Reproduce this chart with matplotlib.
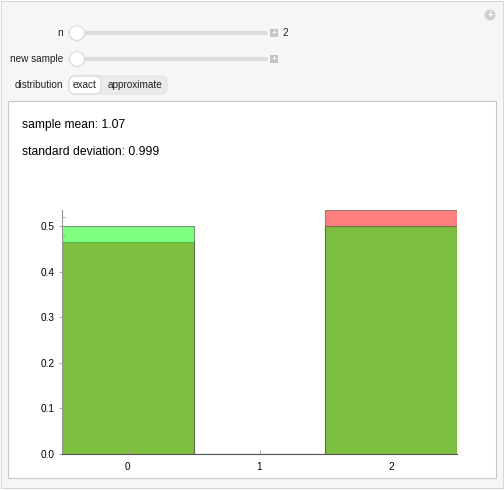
import numpy as np
from matplotlib import pyplot as plt
from matplotlib.patches import Rectangle, FancyBboxPatch, Circle
from matplotlib.ticker import MultipleLocator

plt.rcParams['font.family'] = ['Liberation Sans', 'DejaVu Sans']

# values
outcomes = [0, 1, 2]
exact_prob = [0.5, 0.0, 0.5]
sample_freq = [0.465, 0.0, 0.535]
tick_labels = ['0', '1', '2']
mean_text = 'sample mean: 1.07'
std_text = 'standard deviation: 0.999'
n_value = '2'

W, H = 504, 490
fig = plt.figure(figsize=(W / 100, H / 100), dpi=100)
fig.patch.set_facecolor('white')

def px(x, y):
    # pixel coords (top-left origin) -> figure fraction
    return x / W, 1 - y / H

# outer panel
fig.patches.append(Rectangle((1 / W, 1 - 488 / H), 502 / W, 487 / H, transform=fig.transFigure,
                             facecolor='#f6f6f6', edgecolor='#d8d8d8', lw=0.8, zorder=-3))
# inner white pane
fig.patches.append(Rectangle((8 / W, 1 - 478 / H), 488 / W, 377 / H, transform=fig.transFigure,
                             facecolor='white', edgecolor='#c8c8c8', lw=0.8, zorder=-2))

# controls
lab_fs = 7.2
for label, yy in [('n', 33), ('new sample', 59)]:
    fig.text(*px(63, yy), label, ha='right', va='center', fontsize=lab_fs, color='#222222')
    fig.add_artist(plt.Line2D([70 / W, 266 / W], [1 - yy / H] * 2, color='#dcdcdc', lw=3,
                              solid_capstyle='round', transform=fig.transFigure, zorder=1))
    fig.patches.append(Circle(px(77, yy + 0.5), 8 / W, transform=fig.transFigure,
                              facecolor='#e2e2e2', edgecolor='none', zorder=2))
    fig.patches.append(Circle(px(77, yy), 7.5 / W, transform=fig.transFigure,
                              facecolor='white', edgecolor='#d0d0d0', lw=0.5, zorder=3))
    fig.patches.append(Rectangle((270 / W, 1 - (yy + 4) / H), 8 / W, 8 / H, transform=fig.transFigure,
                                 facecolor='#c4c4c4', edgecolor='none', zorder=2))
    fig.text(*px(274, yy), '+', ha='center', va='center', fontsize=6, color='white', weight='bold',
             zorder=4)
fig.text(*px(282, 33), n_value, ha='left', va='center', fontsize=lab_fs, color='#222222')

fig.text(*px(63, 85), 'distribution', ha='right', va='center', fontsize=lab_fs, color='#222222')
fig.patches.append(FancyBboxPatch((69 / W, 1 - 94 / H), 98 / W, 18 / H, transform=fig.transFigure,
                                  boxstyle='round,pad=0,rounding_size=0.012',
                                  facecolor='#ebebeb', edgecolor='#dddddd', lw=0.6, zorder=1))
fig.patches.append(FancyBboxPatch((69 / W, 1 - 94 / H), 32 / W, 18 / H, transform=fig.transFigure,
                                  boxstyle='round,pad=0,rounding_size=0.012',
                                  facecolor='white', edgecolor='#cccccc', lw=0.6, zorder=2))
fig.text(*px(85, 85), 'exact', ha='center', va='center', fontsize=lab_fs, color='#222222')
fig.text(*px(135, 85), 'approximate', ha='center', va='center', fontsize=lab_fs, color='#222222')

fig.patches.append(Circle(px(490, 15), 5.5 / W, transform=fig.transFigure,
                          facecolor='#cfcfcf', edgecolor='none', zorder=1))
fig.text(*px(490, 15), '+', ha='center', va='center', fontsize=7, color='white', weight='bold')

# text lines
fig.text(*px(22, 125), mean_text, ha='left', va='center', fontsize=8.7, color='black')
fig.text(*px(22, 152), std_text, ha='left', va='center', fontsize=8.7, color='black')

# histogram axes
ax = fig.add_axes([62 / W, 36 / H, (457 - 62) / W, (454 - 210) / H], zorder=5)
ax.bar(outcomes, sample_freq, width=1.0, color=(1, 0, 0, 0.5), edgecolor=(0.3, 0.3, 0.3, 0.6), lw=0.8)
ax.bar(outcomes, exact_prob, width=1.0, color=(0, 1, 0, 0.5), edgecolor=(0.3, 0.3, 0.3, 0.6), lw=0.8)
ax.set_xlim(-0.5, 2.5)
ax.set_ylim(0, max(sample_freq))
ax.set_xticks(outcomes)
ax.set_xticklabels(tick_labels)
ax.yaxis.set_major_locator(MultipleLocator(0.1))
ax.yaxis.set_minor_locator(MultipleLocator(0.02))
ax.yaxis.set_major_formatter(plt.FuncFormatter(lambda v, p: '%.1f' % v))
ax.tick_params(direction='inout', labelsize=7.2, colors='#999999', labelcolor='black', length=4, width=0.6)
ax.tick_params(axis='y', which='minor', direction='in', length=2.5, width=0.6, colors='#999999')
ax.tick_params(axis='x', direction='in', length=3, pad=6)
for s in ['top', 'right']:
    ax.spines[s].set_visible(False)
ax.spines['left'].set_color('#999999')
ax.spines['bottom'].set_color('#555555')
ax.spines['left'].set_linewidth(0.8)
ax.spines['bottom'].set_linewidth(0.8)
ax.set_facecolor('none')

fig.savefig('out.png', dpi=100, facecolor=fig.get_facecolor())
